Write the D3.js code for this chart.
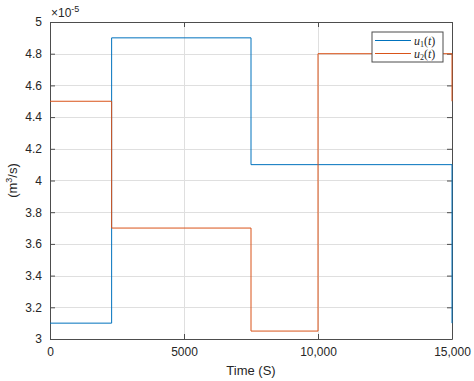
<!DOCTYPE html>
<html>
<head>
<meta charset="utf-8">
<script src="https://cdn.jsdelivr.net/npm/d3@7"></script>
<style>
  body { margin: 0; background: #fff; }
  svg { font-family: "Liberation Sans", Arial, sans-serif; }
  .grid line { stroke: #dfdfdf; stroke-width: 1; }
</style>
</head>
<body>
<div class="chart-container"></div>
<script>
var totalWidth = 474;
var totalHeight = 381;
var margin = { top: 22, right: 22, bottom: 42, left: 50 };
var width = 452 - margin.left;
var height = 339 - margin.top;

// switching times (s) and the two flow inputs (m^3/s)
var times = [0, 2300, 7500, 10000, 15000];
var u1 = [3.1e-5, 4.9e-5, 4.1e-5, 4.1e-5, 3.1e-5];
var u2 = [4.5e-5, 3.7e-5, 3.05e-5, 4.8e-5, 4.5e-5];
var seriesNames = ['1', '2'];
var xTicks = [0, 5000, 10000, 15000];
var xTickLabels = ['0', '5000', '10,000', '15,000'];
var yTicks = [3, 3.2, 3.4, 3.6, 3.8, 4, 4.2, 4.4, 4.6, 4.8, 5];

var colors = ['#0072BD', '#D95319'];

var svg = d3.select('.chart-container').append('svg')
  .attr('width', totalWidth)
  .attr('height', totalHeight);

var x = d3.scaleLinear().domain([0, 15000]).range([0, width]);
var y = d3.scaleLinear().domain([3e-5, 5e-5]).range([height, 0]);

var g = svg.append('g')
  .attr('transform', `translate(${margin.left}, ${margin.top})`);

// grid
var grid = g.append('g').attr('class', 'grid');
grid.selectAll('.gx')
  .data(xTicks).enter()
  .append('line')
    .attr('x1', d => x(d) + 0.5).attr('x2', d => x(d) + 0.5)
    .attr('y1', 0).attr('y2', height);
grid.selectAll('.gy')
  .data(yTicks).enter()
  .append('line')
    .attr('y1', d => Math.round(y(d * 1e-5)) + 0.5).attr('y2', d => Math.round(y(d * 1e-5)) + 0.5)
    .attr('x1', 0).attr('x2', width);

// axes (box with inward ticks)
var axisColor = '#4d4d4d';
var tickLen = 5;

var xAxis = d3.axisBottom(x).tickValues(xTicks).tickSizeInner(-tickLen).tickSizeOuter(0)
  .tickFormat((d, i) => xTickLabels[i]).tickPadding(8);
var yAxis = d3.axisLeft(y).tickValues(yTicks.map(v => v * 1e-5)).tickSizeInner(-tickLen).tickSizeOuter(0)
  .tickFormat(d => d3.format('')(+(d * 1e5).toFixed(1))).tickPadding(8);

var gX = g.append('g').attr('transform', `translate(0, ${height})`).call(xAxis);
var gY = g.append('g').call(yAxis);
g.append('g').call(d3.axisTop(x).tickValues(xTicks).tickSizeInner(-tickLen).tickSizeOuter(0).tickFormat(''));
g.append('g').attr('transform', `translate(${width}, 0)`)
  .call(d3.axisRight(y).tickValues(yTicks.map(v => v * 1e-5)).tickSizeInner(-tickLen).tickSizeOuter(0).tickFormat(''));

g.selectAll('.domain').attr('stroke', axisColor);
g.selectAll('.tick line').attr('stroke', axisColor);
g.selectAll('.tick text')
  .attr('fill', '#262626')
  .style('font-size', '12px')
  .style('font-family', '"Liberation Sans", Arial, sans-serif');

// series (drawn over the axis box, as in the original)
var line = d3.line()
  .x(d => x(d[0]))
  .y(d => y(d[1]))
  .curve(d3.curveStepAfter);

[u1, u2].forEach((vals, i) => {
  g.append('path')
    .datum(times.map((t, j) => [t, vals[j]]))
    .attr('fill', 'none')
    .attr('stroke', colors[i])
    .attr('stroke-width', 1)
    .attr('d', line);
});

// exponent
svg.append('text')
  .attr('x', margin.left + 1)
  .attr('y', 17)
  .attr('fill', '#262626')
  .style('font-size', '12px')
  .text('×10')
  .append('tspan')
    .attr('dy', -5)
    .style('font-size', '9px')
    .text('-5');

// axis labels
svg.append('text')
  .attr('text-anchor', 'middle')
  .attr('transform', `translate(${margin.left + width / 2}, 375)`)
  .attr('fill', '#262626')
  .style('font-size', '13px')
  .text('Time (S)');

var yl = svg.append('text')
  .attr('text-anchor', 'middle')
  .attr('transform', `translate(17, ${margin.top + height / 2}) rotate(-90)`)
  .attr('fill', '#262626')
  .style('font-size', '13px');
yl.append('tspan').text('(m');
yl.append('tspan').attr('dy', -5).style('font-size', '9px').text('3');
yl.append('tspan').attr('dy', 5).text('/s)');

// legend
var lg = svg.append('g').attr('transform', 'translate(372, 32)');
lg.append('rect')
  .attr('width', 71).attr('height', 30)
  .attr('fill', '#fff')
  .attr('stroke', '#4d4d4d')
  .attr('stroke-width', 1);

seriesNames.forEach((n, i) => {
  var yy = 8.5 + i * 13;
  lg.append('line')
    .attr('x1', 3).attr('x2', 39)
    .attr('y1', yy).attr('y2', yy)
    .attr('stroke', colors[i]);
  var t = lg.append('text')
    .attr('x', 42).attr('y', yy + 4)
    .attr('fill', '#262626')
    .style('font-family', '"Liberation Serif", "DejaVu Serif", serif')
    .style('font-style', 'italic')
    .style('font-size', '12px');
  t.append('tspan').text('u');
  t.append('tspan').attr('dy', 2).style('font-size', '8px').style('font-style', 'normal').text(n);
  t.append('tspan').attr('dy', -2).style('font-style', 'normal').text('(');
  t.append('tspan').text('t');
  t.append('tspan').style('font-style', 'normal').text(')');
});
</script>
</body>
</html>
